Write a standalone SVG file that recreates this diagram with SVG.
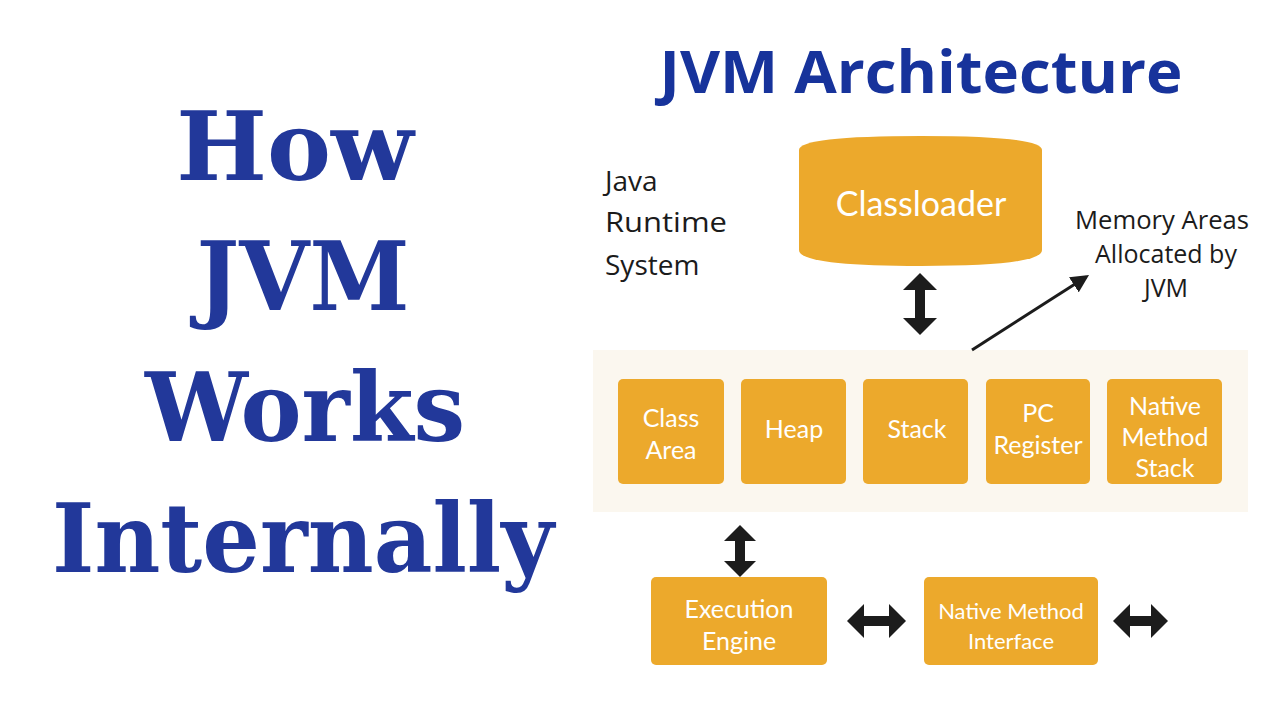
<svg xmlns="http://www.w3.org/2000/svg" width="1280" height="720" viewBox="0 0 1280 720">
<defs>
<style>
.big{font-family:"DejaVu Serif","Liberation Serif",serif;font-weight:bold;fill:#22389a;text-anchor:middle}
.ttl{font-family:"Open Sans",Lato,sans-serif;font-weight:bold;fill:#17339b;font-size:59px;text-anchor:middle}
.box{fill:#eca92c}
.lbl{font-family:Lato,"Open Sans",sans-serif;fill:#ffffff;text-anchor:middle}
.note{font-family:"Open Sans",Lato,sans-serif;fill:#1b1b1b}
.dark{fill:#1c1c1c}
</style>
<marker id="ah" viewBox="0 0 10 10" refX="8" refY="5" markerWidth="6" markerHeight="6" orient="auto">
<path d="M0,0 L10,5 L0,10 z" fill="#1c1c1c"/>
</marker>
</defs>
<rect width="1280" height="720" fill="#ffffff"/>

<g id="headline">
<text class="big" x="295" y="180" font-size="96">How</text>
<text class="big" x="303" y="310" font-size="96" textLength="213" lengthAdjust="spacingAndGlyphs">JVM</text>
<text class="big" x="305" y="441" font-size="96" textLength="320" lengthAdjust="spacingAndGlyphs">Works</text>
<text class="big" x="303" y="572" font-size="96" textLength="502" lengthAdjust="spacingAndGlyphs">Internally</text>
</g>

<g id="title">
<text class="ttl" x="921" y="93" textLength="523" lengthAdjust="spacingAndGlyphs">JVM Architecture</text>
</g>

<g id="jrs-label">
<text class="note" x="605" y="191" font-size="28">Java</text>
<text class="note" x="605" y="232" font-size="28" textLength="122" lengthAdjust="spacingAndGlyphs">Runtime</text>
<text class="note" x="605" y="275" font-size="28">System</text>
</g>

<g id="mem-label">
<text class="note" x="1162" y="229" font-size="25" text-anchor="middle" textLength="174" lengthAdjust="spacingAndGlyphs">Memory Areas</text>
<text class="note" x="1166" y="263" font-size="25" text-anchor="middle">Allocated by</text>
<text class="note" x="1166" y="297" font-size="25" text-anchor="middle">JVM</text>
</g>

<g id="classloader">
<path class="box" d="M799,150 Q799,136 921,136 Q1042,136 1042,150 L1042,250 Q1042,266 921,266 Q799,266 799,250 Z"/>
<text class="lbl" x="921" y="216" font-size="34">Classloader</text>
</g>

<g id="runtime-panel">
<rect x="593" y="350" width="655" height="162" fill="#fbf7ef"/>
</g>

<g id="class-area">
<rect class="box" x="618" y="379" width="106" height="105" rx="5"/>
<text class="lbl" x="671" y="427" font-size="25">Class</text>
<text class="lbl" x="671" y="459" font-size="25">Area</text>
</g>
<g id="heap">
<rect class="box" x="741" y="379" width="105" height="105" rx="5"/>
<text class="lbl" x="794" y="438" font-size="25">Heap</text>
</g>
<g id="stack">
<rect class="box" x="863" y="379" width="105" height="105" rx="5"/>
<text class="lbl" x="917" y="438" font-size="25">Stack</text>
</g>
<g id="pc-register">
<rect class="box" x="986" y="379" width="104" height="105" rx="5"/>
<text class="lbl" x="1038" y="422" font-size="25">PC</text>
<text class="lbl" x="1038" y="454" font-size="25">Register</text>
</g>
<g id="native-method-stack">
<rect class="box" x="1107" y="379" width="115" height="105" rx="5"/>
<text class="lbl" x="1165" y="415" font-size="25">Native</text>
<text class="lbl" x="1165" y="446" font-size="25">Method</text>
<text class="lbl" x="1165" y="477" font-size="25">Stack</text>
</g>

<g id="execution-engine">
<rect class="box" x="651" y="577" width="176" height="88" rx="5"/>
<text class="lbl" x="739" y="618" font-size="25">Execution</text>
<text class="lbl" x="739" y="650" font-size="25">Engine</text>
</g>
<g id="native-method-interface">
<rect class="box" x="924" y="577" width="174" height="88" rx="5"/>
<text class="lbl" x="1011" y="619" font-size="22">Native Method</text>
<text class="lbl" x="1011" y="649" font-size="22">Interface</text>
</g>

<g id="connectors">
<path class="dark" d="M920,273 L937,290 L925,290 L925,318 L937,318 L920,335 L903,318 L915,318 L915,290 L903,290 Z"/>
<line x1="972" y1="350" x2="1086" y2="277" stroke="#1c1c1c" stroke-width="3" marker-end="url(#ah)"/>
<path class="dark" d="M740,525 L756,541 L745,541 L745,561 L756,561 L740,577 L724,561 L735,561 L735,541 L724,541 Z"/>
<path class="dark" d="M847,621 L864,604 L864,616 L889,616 L889,604 L906,621 L889,638 L889,626 L864,626 L864,638 Z"/>
<path class="dark" d="M1113,621 L1130,604 L1130,616 L1151,616 L1151,604 L1168,621 L1151,638 L1151,626 L1130,626 L1130,638 Z"/>
</g>
</svg>
